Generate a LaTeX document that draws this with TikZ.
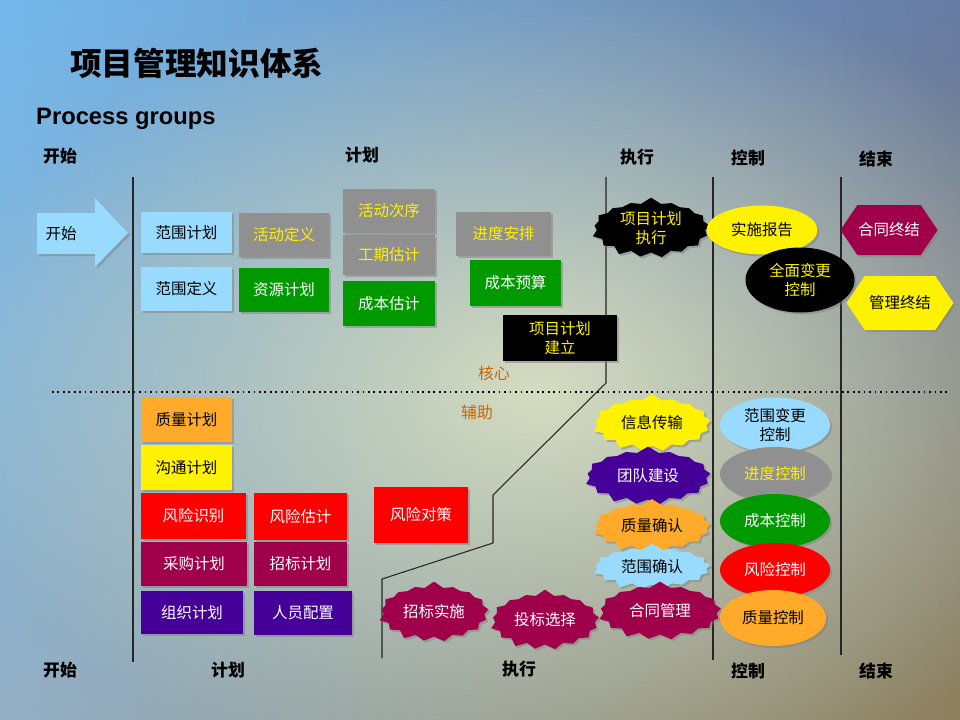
\documentclass[tikz,border=0pt]{standalone}
\usepackage{fontspec}
\setmainfont{Noto Sans CJK SC}
\newfontfamily\latinfont{Liberation Sans}
\usetikzlibrary{shapes.symbols,shapes.geometric,shadows,shadings,fadings}
\definecolor{skyblue}{RGB}{153,219,255}
\definecolor{boxgray}{RGB}{144,144,144}
\definecolor{boxgreen}{RGB}{0,153,0}
\definecolor{wine}{RGB}{160,0,74}
\definecolor{indigo}{RGB}{68,0,153}
\definecolor{amber}{RGB}{255,170,42}
\definecolor{corecolor}{RGB}{205,100,0}
\definecolor{glowcolor}{RGB}{222,228,196}
\definecolor{bgtl}{RGB}{116,184,236}
\definecolor{bgtr}{RGB}{104,124,164}
\definecolor{bgbl}{RGB}{148,176,198}
\definecolor{bgbr}{RGB}{142,128,92}
\tikzfading[name=glow, inner color=transparent!10, outer color=transparent!100]
\tikzset{
	label/.style={font=\fontsize{8.8}{10.5}\selectfont, align=center, inner sep=0pt},
	task/.style={label, draw=none,
		drop shadow={shadow xshift=0.4mm, shadow yshift=-0.4mm, opacity=0.5}},
	size/.style 2 args={/utils/exec={\pgfmathsetlengthmacro\nodew{#1*0.2mm}\pgfmathsetlengthmacro\nodeh{#2*0.2mm}},
		minimum width=\nodew, minimum height=\nodeh},
	box/.style 2 args={task, rectangle, size={#1}{#2}},
	burst/.style 2 args={task, starburst, starburst points=17, starburst point height=1.3mm,
		random starburst=7, size={#1}{#2}},
	oval/.style 2 args={task, ellipse, size={#1}{#2}},
	hexa/.style 2 args={task, signal, signal to=east and west, signal pointer angle=112, size={#1}{#2}},
	phase/.style={font=\fontsize{9.6}{11}\selectfont\bfseries},
	divider/.style={line width=0.6pt, black!85},
	marker/.style={font=\fontsize{9}{11}\selectfont, text=corecolor}
}

\begin{document}
\begin{tikzpicture}[x=0.2mm, y=-0.2mm]
	\useasboundingbox (0,0) rectangle (960,720);
	\shade[upper left=bgtl, upper right=bgtr, lower left=bgbl, lower right=bgbr] (0,0) rectangle (960,720);
	\fill[glowcolor, path fading=glow] (540,390) ellipse [x radius=600, y radius=420];

	\node[anchor=west, font=\fontsize{18}{20}\selectfont\bfseries] (title) at (64,63) {项目管理知识体系};
	\node[anchor=west, font=\latinfont\fontsize{13.5}{15}\selectfont\bfseries] (groups) at (30,119) {Process groups};

	\node[phase] (topstart) at (60,156) {开始};
	\node[phase] (topplan) at (362,155) {计划};
	\node[phase] (topexec) at (637,157) {执行};
	\node[phase] (topctrl) at (748,158) {控制};
	\node[phase] (topend) at (876,159) {结束};
	\node[phase] (botstart) at (60,670) {开始};
	\node[phase] (botplan) at (228,670) {计划};
	\node[phase] (botexec) at (519,669) {执行};
	\node[phase] (botctrl) at (748,671) {控制};
	\node[phase] (botend) at (876,671) {结束};

	\draw[divider] (133,177) -- (133,662);
	\draw[divider] (606,177) -- (606,383) -- (493,495) -- (493,543) -- (382,579) -- (382,658);
	\draw[divider] (713,177) -- (713,660);
	\draw[divider] (841,177) -- (841,655);
	\draw[line width=1pt, dash pattern=on 1pt off 2.1pt] (52,392) -- (947,392);
	\node[marker] (core) at (494,373) {核心};
	\node[marker] (aux) at (477,413) {辅助};

	\fill[skyblue, drop shadow={shadow xshift=0.4mm, shadow yshift=-0.4mm, opacity=0.5}]
		(37,213) -- (95,213) -- (95,198) -- (128,233) -- (95,267) -- (95,254) -- (37,254) -- cycle;
	\node[label] (start) at (61,234) {开始};

	\node[box={91}{41}, fill=skyblue] (scopeplan) at (186.5,232.5) {范围计划};
	\node[box={91}{44}, fill=skyblue] (scopedef) at (186.5,289) {范围定义};
	\node[box={90}{44}, fill=boxgray, text=yellow] (actdef) at (284,235) {活动定义};
	\node[box={90}{44}, fill=boxgreen, text=white] (resplan) at (284,290) {资源计划};
	\node[box={92}{44}, fill=boxgray, text=yellow] (actseq) at (389,211) {活动次序};
	\node[box={92}{40}, fill=boxgray, text=yellow] (duration) at (389,255) {工期估计};
	\node[box={92}{45}, fill=boxgreen, text=white] (costest) at (389,303.5) {成本估计};
	\node[box={95}{44}, fill=boxgray, text=yellow] (schedule) at (503.5,234) {进度安排};
	\node[box={91}{46}, fill=boxgreen, text=white] (budget) at (515.5,283) {成本预算};
	\node[box={114}{46}, fill=black, text=yellow] (plandev) at (560,338) {项目计划\\建立};

	\node[burst={122}{62}, fill=black, text=yellow] (planexec) at (651,228) {项目计划\\执行};
	\node[oval={111}{49}, fill=yellow] (perfrep) at (762,230) {实施报告};
	\node[oval={109}{65}, fill=black, text=yellow] (changectrl) at (800,280) {全面变更\\控制};
	\node[hexa={97}{50}, fill=wine, text=white] (contractclose) at (889,230) {合同终结};
	\node[hexa={107}{54}, fill=yellow] (adminclose) at (900,303) {管理终结};

	\node[box={91}{45}, fill=amber] (qualplan) at (186.5,419.5) {质量计划};
	\node[box={91}{45}, fill=yellow] (commplan) at (186.5,467.5) {沟通计划};
	\node[box={105}{46}, fill=red, text=white] (riskid) at (193.5,516) {风险识别};
	\node[box={93}{47}, fill=red, text=white] (riskquant) at (300.5,516.5) {风险估计};
	\node[box={94}{56}, fill=red, text=white] (riskresp) at (421,515) {风险对策};
	\node[box={106}{44}, fill=wine, text=white] (procplan) at (194,564) {采购计划};
	\node[box={93}{44}, fill=wine, text=white] (solplan) at (300.5,564) {招标计划};
	\node[box={102}{43}, fill=indigo, text=white] (orgplan) at (192,612.5) {组织计划};
	\node[box={98}{44}, fill=indigo, text=white] (staffacq) at (303,613) {人员配置};

	\node[burst={122}{59}, fill=yellow] (infodist) at (652,423) {信息传输};
	\node[burst={130}{60}, fill=indigo, text=white] (teamdev) at (648,476) {团队建设};
	\node[burst={122}{55}, fill=amber] (qualassure) at (652,526) {质量确认};
	\node[burst={114}{62}, fill=wine, text=white] (solicit) at (434,612) {招标实施};
	\node[burst={113}{62}, fill=wine, text=white] (srcselect) at (545,620) {投标选择};
	\node[burst={122}{48}, fill=skyblue] (scopeverif) at (652,567) {范围确认};
	\node[burst={127}{60}, fill=wine, text=white] (contractadmin) at (660,611) {合同管理};

	\node[oval={110}{55}, fill=skyblue] (scopectrl) at (775,425) {范围变更\\控制};
	\node[oval={110}{54}, fill=boxgray, text=yellow] (schedctrl) at (775,474) {进度控制};
	\node[oval={110}{54}, fill=boxgreen, text=white] (costctrl) at (775,521) {成本控制};
	\node[oval={110}{54}, fill=red, text=white] (riskctrl) at (775,570) {风险控制};
	\node[oval={106}{56}, fill=amber] (qualctrl) at (773,618) {质量控制};
\end{tikzpicture}
\end{document}
